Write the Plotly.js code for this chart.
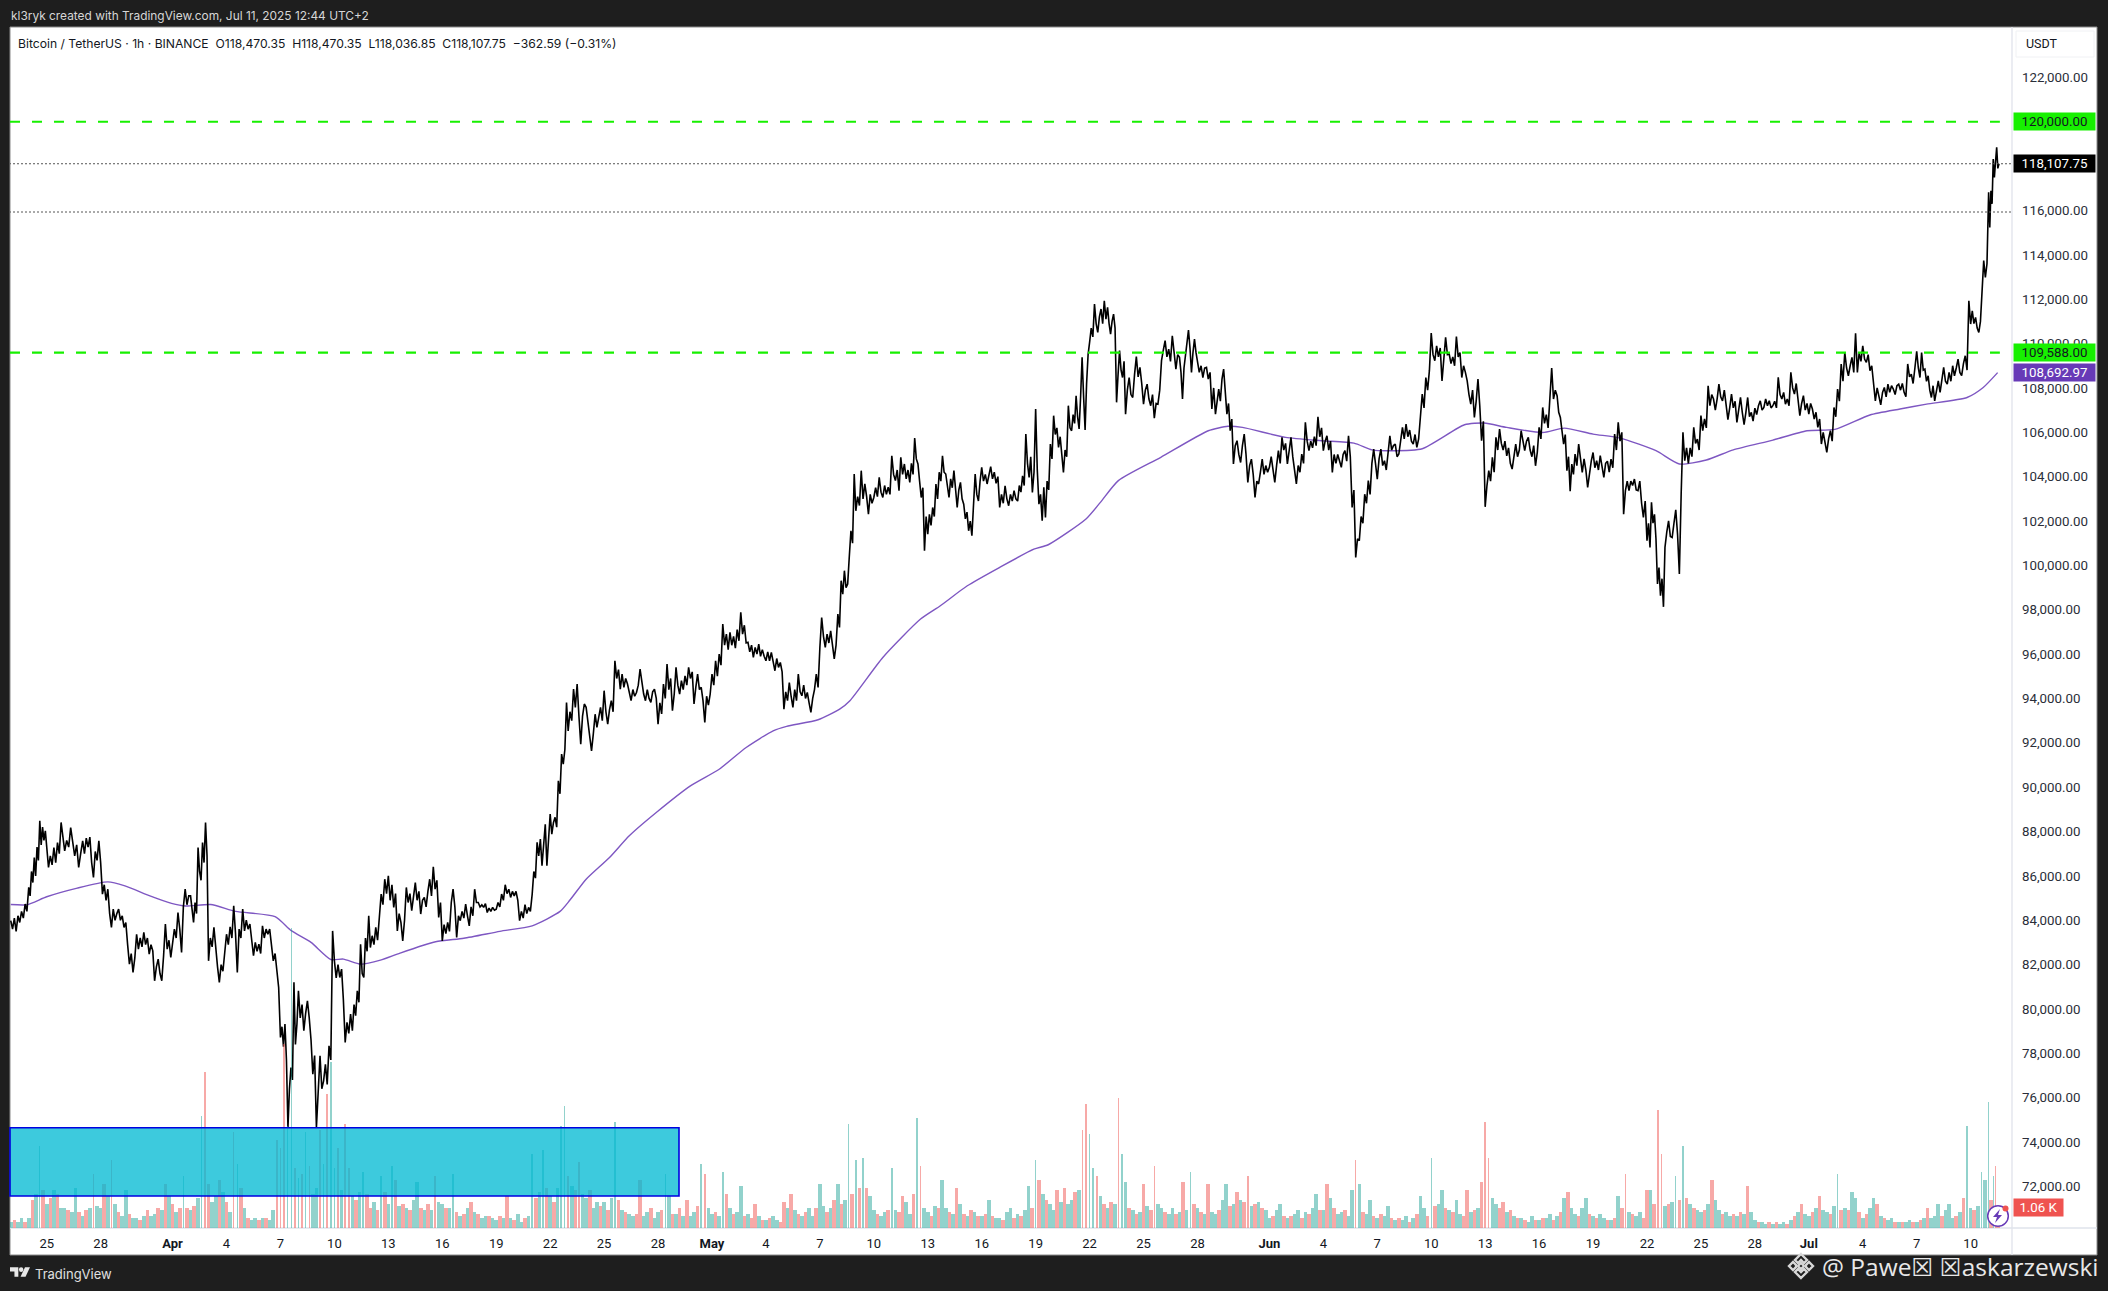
<!DOCTYPE html>
<html><head><meta charset="utf-8">
<script src="https://cdn.plot.ly/plotly-3.0.1.min.js"></script>
<style>html,body{margin:0;padding:0;background:#1e1e1e}</style></head>
<body><div id="chart" style="width:2108px;height:1291px"></div>
<script>
// Price path, USD thousands: one list per calendar day.
const priceMar = [ // 23..31
[83.98,83.6,84.1,83.5,84.2,83.9,84.4,84.1,84.73,84.4],
[85.48,85.1,86.2,85.7,86.83,86.0,87.3,86.7,88.48,87.4,88.2,87.6,88.03],
[87.2,86.38,86.9,86.5,87.28,86.6,87.5,87.0,88.41,87.7],
[87.13,87.6,87.3,88.18,87.5,86.9,87.4,86.38,87.0],
[87.58,87.0,87.7,87.3,87.75,86.6,85.93,87.1,86.7,87.58],
[86.6,85.18,85.6,84.9,85.4,84.3,83.68,84.5,84.0,84.3],
[84.5,84.0,84.2,83.68,83.9,82.9,82.02,82.5,81.65,82.3],
[83.37,82.7,83.2,82.8,83.45,82.9,83.2,82.47,82.9,82.62],
[81.27,81.9,82.25,81.6,81.27,82.4,83.83,82.7,83.1,82.32]];
const priceApr = [
[82.92,83.6,83.2,84.35,83.6,82.55,84.6,85.4,84.7,85.1],
[85.1,84.5,83.9,84.8,84.3,87.28,86.2,85.8,87.5,86.6,88.41,86.9],
[82.17,83.2,82.8,83.68,82.7,81.9,81.2,82.0,81.7,82.47],
[83.37,82.9,83.7,83.2,84.65,83.4,81.65,83.6,83.2,84.5],
[83.52,84.0,83.6,83.83,83.1,82.4,83.0,82.6,82.92,82.5],
[83.75,83.2,83.6,83.37,83.6,82.9,82.17,82.5,81.8,80.97],
[78.72,79.2,78.3,79.32,77.7,74.66,76.4,77.36,76.8,81.2,78.4,79.32],
[80.82,79.6,80.2,79.02,79.8,80.37,79.6,78.6,77.06,77.9],
[74.66,76.1,77.89,76.4,76.76,77.5,76.6,78.34,77.7,83.52],
[82.17,81.4,82.0,81.42,81.8,80.4,78.49,79.4,78.9,79.77],
[79.02,80.2,79.7,80.82,80.3,82.92,81.6,81.42,83.2,82.6,84.2],
[82.77,83.3,82.9,83.68,83.1,84.4,85.18,84.7,85.85,85.2],
[86.0,84.9,85.6,84.58,85.2,83.52,84.3,83.9,83.07,84.0],
[85.48,84.8,85.2,84.43,85.1,85.7,84.9,85.3,84.28,84.9],
[85.03,84.6,85.3,85.85,85.1,86.41,85.4,85.8,84.13,84.8],
[83.07,83.8,83.4,83.9,83.5,84.8,85.4,84.6,83.22,84.2],
[83.98,84.4,84.1,84.73,84.2,83.75,84.6,84.2,85.4,84.8],
[84.8,84.6,84.7,84.58,84.75,84.35,84.55,84.4,84.58,84.45],
[84.5,84.8,84.6,85.18,84.9,85.6,85.2,85.4,85.03,85.3],
[85.1,85.3,84.9,83.98,84.4,84.1,84.7,84.3,84.58,84.4],
[85.18,86.2,85.9,87.51,86.9,87.66,86.46,87.3,88.33,86.46,87.7],
[88.79,87.88,88.4,88.64,88.2,90.29,89.7,91.49,91.04,91.7,93.82],
[92.54,93.4,93.0,94.42,93.6,94.65,93.2,91.94,93.2,93.75],
[93.6,92.9,92.3,91.64,92.4,93.29,92.7,93.1,93.6,93.0],
[94.35,93.4,92.84,93.5,93.9,93.4,95.7,94.9,95.3,94.42],
[95.1,94.5,94.9,94.65,94.3,93.9,94.4,94.1,94.27,94.6],
[95.32,94.7,94.2,93.9,94.4,94.0,93.82,94.3,94.42,94.0],
[92.84,93.8,93.3,94.65,94.0,95.55,94.4,94.9,93.45,94.2],
[95.4,94.6,94.2,94.8,94.4,95.02,94.6,95.4,94.9,95.2],
[93.75,94.5,95.1,94.4,94.5,93.9,92.92,94.1,93.7,94.2]];
const priceMay = [
[95.1,94.6,95.7,95.0,96.0,95.5,97.35,96.4,96.9,96.2],
[96.98,96.4,96.8,96.27,97.1,96.6,97.88,96.9,97.3,96.5],
[96.53,96.1,96.4,95.85,96.3,96.0,96.45,95.9,96.2,95.9],
[95.7,96.1,95.7,96.08,95.6,95.25,95.8,95.4,95.62,95.2],
[93.52,94.3,93.9,94.72,94.1,93.6,94.4,93.9,95.1,94.3],
[94.12,94.6,94.0,94.27,93.8,93.37,94.0,94.4,95.1,94.5],
[96.3,97.65,96.8,96.3,96.9,96.5,97.05,96.4,95.78,96.4],
[97.8,97.2,99.31,98.7,99.76,99.0,99.16,100.4,101.56,101.0,104.12],
[102.46,103.1,102.7,104.27,103.0,103.67,103.1,102.31,103.2,102.8],
[103.06,103.5,103.1,103.97,103.3,103.06,103.6,103.2,103.52,103.2],
[104.94,104.1,103.82,104.3,103.37,104.87,104.1,104.57,103.9,104.3],
[103.74,104.6,104.1,105.74,104.8,104.57,103.8,103.06,103.5,100.66,102.2],
[101.41,102.3,101.8,102.61,102.2,103.67,103.0,104.2,103.8,104.94,104.2],
[104.12,103.5,103.06,103.9,103.5,104.27,103.4,102.61,103.4,103.74,103.0],
[102.76,102.1,102.4,101.56,102.0,101.34,102.6,104.12,103.2,102.9,103.8],
[104.42,103.8,104.1,103.67,104.0,104.45,103.9,104.2,103.7,104.0],
[102.61,103.2,102.8,103.59,103.0,102.69,103.2,102.9,103.37,103.0],
[102.9,103.6,103.3,104.04,103.6,105.92,104.6,103.97,104.9,103.29,104.2],
[107.05,104.3,102.76,103.2,102.01,103.52,102.16,103.8,103.4,105.47,104.8],
[106.75,105.9,106.2,105.32,105.8,104.9,104.19,105.2,104.9,107.2,106.2],
[106.07,106.8,106.4,107.65,106.7,106.15,107.6,109.38,107.6,106.1,108.2,109.5],
[110.05,110.7,110.3,111.78,110.9,110.5,111.2,111.56,110.9,111.93,111.1],
[111.63,110.9,110.43,111.0,111.33,110.7,107.35,108.6,109.68,108.8,108.47,109.2],
[106.82,107.9,108.47,107.7,107.57,108.6,109.41,108.5,108.93,108.2],
[107.27,107.9,108.17,107.5,107.2,107.7,106.64,107.3,107.27,107.9],
[109.23,109.7,110.13,109.4,109.75,109.2,110.35,109.6,108.85,109.5],
[109.38,108.7,107.5,108.9,109.45,110.0,110.61,109.8,108.7,109.6,110.2,109.6],
[109.15,108.7,109.0,108.47,108.9,108.93,108.4,108.7,107.05,108.0],
[106.82,107.5,107.95,107.4,108.4,108.85,107.9,106.82,107.3,106.07,106.6],
[104.57,105.4,105.62,105.0,104.64,105.4,105.92,105.0,103.74,104.5],
[104.79,104.1,103.06,103.8,103.67,104.2,104.79,104.1,104.5,104.2]];
const priceJun = [
[104.42,104.9,104.3,103.74,104.5,105.17,104.6,105.77,105.2,105.5],
[104.57,105.2,105.77,104.9,104.3,103.67,104.5,104.2,105.02,104.6],
[106.45,105.6,105.17,105.6,105.3,105.8,105.4,106.7,105.8,106.2],
[105.17,105.6,105.84,105.2,105.6,104.19,105.0,104.6,105.0,104.7],
[104.42,105.0,105.17,104.7,105.84,104.9,102.61,103.4,100.36,101.2],
[101.11,102.2,101.9,103.21,102.8,103.82,103.2,104.6,105.24,104.6],
[103.89,104.8,105.24,104.5,104.72,104.3,105.2,105.84,105.2,105.4],
[105.47,104.9,105.02,105.6,106.22,105.7,106.37,105.8,106.1,105.6],
[105.47,105.9,105.32,105.7,106.6,107.72,107.1,108.47,107.9,108.8],
[110.47,109.5,109.23,109.9,109.4,109.8,108.32,109.5,110.28,109.5],
[109.53,109.1,109.4,109.0,110.32,109.4,109.6,108.47,109.0,108.7],
[108.32,107.7,107.27,107.9,106.67,107.4,108.4,107.2,105.62,106.5],
[102.64,103.6,104.27,103.8,104.87,104.2,105.77,105.2,106.14,105.5],
[105.2,105.6,104.94,105.3,104.6,104.34,104.9,105.47,104.9,105.2],
[106.07,105.5,105.17,105.6,105.77,105.2,104.9,105.4,104.49,105.1],
[106.22,105.7,107.12,106.4,106.8,106.2,107.6,108.9,107.5,107.9],
[107.65,106.9,106.67,105.9,105.47,105.9,104.27,104.9,103.34,104.57,104.1],
[105.02,104.5,105.47,104.7,104.19,104.8,104.3,103.52,104.2,104.7],
[105.09,104.4,104.72,104.3,104.95,104.5,103.97,104.6,104.7,104.2],
[104.79,104.4,105.92,105.2,106.45,105.6,106.0,102.31,103.37,103.8],
[103.37,103.8,103.6,103.89,103.4,103.37,103.8,102.8,102.16,102.9],
[101.11,101.9,100.81,102.84,101.9,102.3,101.19,99.16,99.9,98.63,99.4,98.13],
[100.81,101.5,102.01,101.3,101.26,101.9,102.5,101.4,99.61,103.21],
[106.0,104.72,105.3,104.6,105.3,104.9,106.22,105.5,105.69,105.2],
[106.75,106.07,106.6,106.2,108.1,107.2,107.7,107.5,107.0,107.5],
[108.17,107.6,107.42,107.9,107.2,106.57,107.1,107.72,107.1,107.4],
[106.45,107.0,107.57,106.9,106.34,106.9,107.57,106.7,106.9,106.5],
[107.09,106.8,107.2,107.42,107.0,107.12,107.5,107.2,107.42,107.1],
[107.2,107.4,107.1,108.48,107.7,107.5,107.8,107.27,107.5,107.2],
[108.7,108.0,107.72,108.2,107.4,106.75,107.3,107.65,107.0,107.3]];
const priceJul = [
[106.82,107.3,107.05,106.6,106.9,106.22,106.6,105.47,106.0,105.6],
[105.09,105.7,106.07,105.6,107.12,106.7,107.95,107.4,109.08,108.3],
[109.6,108.9,108.55,109.0,109.38,108.7,110.46,108.7,109.6,109.2],
[109.9,109.3,109.15,109.5,108.78,109.0,108.2,107.42,108.0,107.6],
[107.24,107.8,108.02,107.6,108.17,107.8,108.1,107.95,107.7,108.1],
[108.17,107.9,108.2,107.8,107.6,109.08,108.5,108.62,108.2,108.9],
[109.65,108.9,108.47,109.6,108.8,108.85,108.3,108.55,107.9,107.57,108.1],
[107.42,107.9,108.32,107.8,108.5,108.93,108.3,108.17,108.7,108.3],
[109.0,108.55,108.9,109.3,108.7,108.55,109.1,109.45,108.8,111.93],
[110.88,111.48,110.9,111.18,110.7,110.5,111.0,112.68,113.74,112.98,113.6],
[116.82,115.24,116.89,116.3,118.32,117.49,118.2,118.85,117.9,118.11]];

// Volume, thousands: one list per day, positive = up bar (teal), negative = down bar (salmon).
const volumeMar = [
[.3,-.4,.3,.5,-.3],[.5,-1.4,1.7,4.1,-1.9],[1.2,-1.5,1.9,-1.7,1.0],[1.0,-.9,.8,2.0,-.8],[.6,-.9,1.0,-2.7,1.1],[1.0,-2.2,1.6,-3.4,1.2],[-.8,.6,1.9,-.7,.5],[.5,-.4,.6,-.9,.6],[.7,-1.0,.9,-2.2,1.6]];
const volumeApr = [
[-1.2,.8,-1.0,2.6,-1.0],[.9,-1.1,1.5,5.6,-7.8],[-2.2,1.3,1.6,-2.4,1.8],[-1.3,.8,-4.8,3.2,-2.0],[1.0,-.5,.4,.5,-.4],[.5,-.5,.4,.9,-4.4],[-4.0,-9.2,5.1,15.0,-3.0],[2.5,-2.7,4.8,-3.1,1.7],[2.0,-4.9,3.2,-6.7,8.3],[3.0,-4.0,1.9,-5.2,-3.0],
[1.6,-1.4,1.8,2.8,-1.7],[-1.0,1.3,-.9,2.6,-1.8],[1.2,3.1,-2.4,1.1,-1.2],[1.0,-.9,1.4,2.3,-1.0],[.9,-1.2,.9,-2.6,1.3],[1.2,-1.0,1.0,2.7,-.8],[.6,-.7,1.0,-1.3,.8],[-.7,.5,.6,-.6,.5],[.4,-.6,.5,-1.6,.5],[-.4,.7,.3,-.5,.6],
[3.7,-1.5,1.8,3.9,-2.0],[1.6,-1.3,2.0,5.1,6.1],[-2.6,2.1,-1.9,-3.3,1.7],[1.5,-1.9,1.0,1.3,-1.1],[1.3,-.9,1.5,5.3,-1.4],[.9,-.8,.7,.6,-.7],[-2.4,.6,.8,-1.0,.5],[.8,-.9,2.7,1.6,-.7],[.7,-1.0,.6,-1.4,.6],[.8,-1.1,3.2,-2.7,1.0]];
const volumeMay = [
[.7,-.8,.6,2.8,-1.7],[1.0,-.7,.8,2.1,-.6],[.7,-.5,-1.2,.6,-.4],[.4,-.5,.6,.4,-.3],[-1.3,1.0,-1.7,.9,-.7],[.6,-.8,1.0,.6,-1.0],[2.2,1.1,-.8,1.0,-1.4],[2.2,-1.2,1.4,5.2,-1.7],[3.4,-2.0,3.5,-2.0,1.6],[.9,-.7,.6,.8,-.9],
[3.0,.9,-.8,-1.6,1.3],[.7,-1.7,5.5,-3.1,1.0],[.8,-.6,1.1,-1.0,2.4],[1.0,-.8,.7,-2.0,1.2],[-.7,.6,-.9,.8,-.6],[.6,-.7,1.4,-.6,.5],[.5,-.4,.8,1.0,-.5],[.7,-.6,.9,2.1,-1.0],[3.4,-2.4,1.7,-1.4,1.2],[.9,-1.9,1.3,-2.0,1.2],
[1.4,-1.8,1.9,-4.9,-6.2],[4.7,3.0,-2.6,1.6,-1.2],[1.0,-1.3,1.2,-6.5,3.7],[2.3,-1.0,.9,-.7,.8],[-2.2,1.1,-.9,-3.1,1.2],[1.0,-.8,.7,1.0,-.7],[.8,-2.3,.9,2.8,-1.2],[1.0,-.8,.7,-2.2,.8],[.7,-.9,1.4,2.2,-1.1],[1.2,-1.8,1.4,-1.3,-2.6],[1.1,-1.2,1.3,-1.0,.9]];
const volumeJun = [
[.5,-.6,.9,1.2,-.6],[.5,-.6,.7,.9,-.5],[.8,-.7,1.0,1.7,-.9],[.9,-2.2,1.5,-1.0,.7],[.8,-.9,.6,1.9,-3.4],[2.2,-.8,.7,1.4,-.6],[.5,-.7,.6,1.1,-.5],[.4,-.5,.4,.6,-.3],[.5,-.7,1.6,1.0,-.6],[3.5,-1.1,1.2,1.9,-1.0],
[.9,-.8,1.4,.7,-.6],[-1.9,.8,-.9,1.0,-2.3],[-5.3,-3.5,1.5,1.2,-1.0],[-1.3,.8,-.9,.6,-.5],[.5,-.4,.3,.6,-.4],[.4,-.5,.5,.7,-.4],[.6,-.8,1.5,-1.8,1.0],[.7,-.6,1.0,1.5,-.7],[.6,-.5,.7,.5,-.4],[.4,-.5,1.6,-1.0,-2.7],
[.8,-.7,.6,.8,-.5],[-1.9,1.9,-1.2,-5.9,-3.7],[1.1,-1.2,1.3,2.6,-1.4],[4.1,-1.5,1.2,-1.0,.9],[.8,-.9,1.2,-2.4,1.4],[.9,-.7,.8,.6,-.7],[.6,-.8,.7,-2.1,.8],[.4,-.3,.3,.2,-.3],[.2,-.3,.2,.3,-.2],[.4,-.6,.8,-1.2,.7]];
const volumeJul = [
[.6,-.8,1.0,-1.6,.9],[.8,-.7,1.1,2.7,-.9],[1.0,-.9,1.8,1.5,-.8],[.5,-.7,1.0,1.5,-1.2],[.6,-.5,.4,.5,-.3],[.3,-.3,.3,.4,-.3],[.3,-.4,.5,-1.0,.5],[.6,1.2,-.6,.9,1.2],[.5,-.6,.8,-1.5,5.1],[1.0,-.9,1.1,2.8,2.4],[6.3,-1.4,2.6,-3.1,-1.06]];

const maDays = [-9,-8.1,-7,-5.3,-3.6,-2.65,-1.26,-.06,.73,2.12,3.51,5.7,6.6,7.7,8.8,9.5,10.46,11.56,12.65,14.63,16.2,18.2,20,21.55,22.1,23,24.3,25.4,26.9,28.8,30.4,31.9,33.4,34.15,35.9,37.1,37.67,39.5,41.6,42.7,44.2,46,47.9,48.7,50.8,51.6,52.6,54.96,57.6,58.7,59.5,61.9,63.9,65.7,66.7,67.7,69.5,71.85,72.94,74.2,76.2,77.4,79,80.5,82.5,83.8,85.3,86.8,89,90.9,92.45,94.4,96.07,97.55,99.8,100.7,101.5];
const maValues = [84.71,84.7,85.06,85.45,85.73,85.55,85.1,84.76,84.64,84.71,84.4,84.16,83.53,83.0,82.23,82.25,82.02,82.2,82.52,83.03,83.19,83.5,83.75,84.4,84.91,85.85,86.83,87.81,88.86,90.06,90.81,91.79,92.54,92.74,93.04,93.52,93.9,95.85,97.58,98.18,99.08,99.91,100.73,100.93,102.09,102.84,103.82,104.87,106.07,106.27,106.22,105.77,105.62,105.51,105.21,105.17,105.26,106.34,106.42,106.22,105.99,106.19,105.92,105.74,105.17,104.57,104.75,105.21,105.65,106.07,106.13,106.78,107.05,107.27,107.57,108.02,108.69];

const tickDates = ["2025-03-25","2025-03-28","2025-04-01","2025-04-04","2025-04-07","2025-04-10","2025-04-13","2025-04-16","2025-04-19","2025-04-22","2025-04-25","2025-04-28","2025-05-01","2025-05-04","2025-05-07","2025-05-10","2025-05-13","2025-05-16","2025-05-19","2025-05-22","2025-05-25","2025-05-28","2025-06-01","2025-06-04","2025-06-07","2025-06-10","2025-06-13","2025-06-16","2025-06-19","2025-06-22","2025-06-25","2025-06-28","2025-07-01","2025-07-04","2025-07-07","2025-07-10"];
const tickTexts = ["25","28","<b>Apr</b>","4","7","10","13","16","19","22","25","28","<b>May</b>","4","7","10","13","16","19","22","25","28","<b>Jun</b>","4","7","10","13","16","19","22","25","28","<b>Jul</b>","4","7","10"];
const priceTicks = [72,74,76,78,80,82,84,86,88,90,92,94,96,98,100,102,104,106,108,110,112,114,116,122];

const lastClose = 118107.75, resistance = 120000, support = 109588, maLast = 108692.97, lowerDotted = 115932;
const zoneTop = 74647, zoneBottom = 71567;
const rangeStart = '2025-03-22 23:00', rangeEnd = '2025-07-12 07:12', levelEnd = '2025-07-11 15:00';

// ---- build
const DAY = 86400000, T0 = Date.UTC(2025,2,23), APR1 = Date.UTC(2025,3,1);
const iso = ms => new Date(ms).toISOString().slice(0,19).replace('T',' ');
function spread(list){
  const xs=[],ys=[];
  list.forEach((vals,i)=>{const span=i===list.length-1?0.64:1;
    vals.forEach((v,j)=>{xs.push(iso(T0+(i+span*j/vals.length)*DAY));ys.push(v);});});
  return {xs,ys};
}
const p = spread([].concat(priceMar,priceApr,priceMay,priceJun,priceJul));
const v = spread([].concat(volumeMar,volumeApr,volumeMay,volumeJun,volumeJul));
const W=2002,H=1201,L=10,T=27;
const px = x => (x-L)/W, py = y => (T+H-y)/H;
const FONT='Inter, "Liberation Sans", sans-serif', NUM='Roboto, "Liberation Sans", sans-serif';

const level = (y) => ({type:'scatter',mode:'lines',x:[rangeStart,levelEnd],y:[y,y],line:{color:'#17f000',width:2.2,dash:'10px,12px'},hoverinfo:'skip',showlegend:false});
const traces = [
 {type:'bar',x:v.xs,y:v.ys.map(Math.abs),yaxis:'y2',width:v.ys.map(q=>DAY*(Math.abs(q)>2.4?0.08:0.2)),
  marker:{color:v.ys.map(q=>q>=0?'rgba(38,166,154,0.5)':'rgba(239,83,80,0.5)'),line:{width:0}},hoverinfo:'skip',showlegend:false},
 {type:'scatter',mode:'lines',x:maDays.map(d=>iso(APR1+d*DAY)),y:maValues.map(q=>q*1000),line:{color:'#7E57C2',width:1.4,shape:'spline',smoothing:.6},hoverinfo:'skip',showlegend:false},
 {type:'scatter',mode:'lines',x:p.xs,y:p.ys.map(q=>q*1000),line:{color:'#000',width:1.6},hoverinfo:'skip',showlegend:false},
 level(resistance),level(support)
];

function tag(y,text,bg,fg){
  return {xref:'paper',yref:'y',x:px(2012.5),y:y,xanchor:'left',yanchor:'middle',text:text,showarrow:false,
    width:79,height:15,bgcolor:bg,borderpad:1,align:'center',font:{family:NUM,size:13.3,color:fg}};
}
function label(xp,yp,text,size,color,family,anchor){
  return {xref:'paper',yref:'paper',x:px(xp),y:py(yp),xanchor:anchor||'left',yanchor:'middle',text:text,showarrow:false,
    font:{family:family||FONT,size:size,color:color}};
}
const svg = s => 'data:image/svg+xml;utf8,'+encodeURIComponent(s);
const logoTV = svg('<svg xmlns="http://www.w3.org/2000/svg" viewBox="0 0 36 20"><g fill="#e8e8e8"><path d="M0 2H15V18H8V9H0z"/><circle cx="20" cy="6" r="4"/><path d="M27 2H36L28 18H19z"/></g></svg>');
const logoBolt = svg('<svg xmlns="http://www.w3.org/2000/svg" viewBox="0 0 24 24"><circle cx="12" cy="12" r="10.3" fill="#fff" stroke="#673AB7" stroke-width="1.5"/><path d="M14 5L7 13h4l-2 6 7-8h-4z" fill="#673AB7"/><circle cx="19.5" cy="4.5" r="3" fill="#EF5350"/></svg>');
const logoDiamond = svg('<svg xmlns="http://www.w3.org/2000/svg" viewBox="0 0 28 28"><g fill="none" stroke="#d8d8d8" stroke-width="2.4"><path d="M14 2l6 6-3 3-3-3-3 3-3-3z"/><path d="M14 26l6-6-3-3-3 3-3-3-3 3z"/><path d="M2 14l4-4 3 3v2l-3 3z"/><path d="M26 14l-4-4-3 3v2l3 3z"/><path d="M14 11l3 3-3 3-3-3z"/></g></svg>');
const image=(src,x,y,w,h)=>({source:src,xref:'paper',yref:'paper',x:px(x),y:py(y),sizex:w/W,sizey:h/H,xanchor:'left',yanchor:'top',sizing:'stretch',layer:'above'});

const layout = {
 width:2108,height:1291,margin:{l:L,r:96,t:T,b:63,pad:0},
 paper_bgcolor:'#1e1e1e',plot_bgcolor:'rgba(0,0,0,0)',showlegend:false,hovermode:false,
 font:{family:FONT,color:'#131722'},bargap:0,
 xaxis:{type:'date',range:[rangeStart,rangeEnd],tickmode:'array',tickvals:tickDates,ticktext:tickTexts,
   showgrid:false,zeroline:false,showline:false,ticks:'',ticklabelstandoff:6,tickangle:0,tickfont:{family:NUM,size:13,color:'#131722'}},
 yaxis:{range:[70125,124273],side:'right',tickmode:'array',tickvals:priceTicks.map(q=>q*1000),tickformat:',.2f',showgrid:false,zeroline:false,showline:false,
   ticks:'',ticklabelstandoff:9,tickfont:{family:NUM,size:13.3,color:'#2a2e39'}},
 yaxis2:{overlaying:'y',range:[0,60.05],visible:false,fixedrange:true},
 shapes:[
  {xref:'paper',yref:'paper',x0:px(10),x1:px(2097),y0:py(27),y1:py(1255),fillcolor:'#fff',line:{color:'#8a8a8a',width:1},layer:'below'},
  {xref:'paper',yref:'paper',x0:px(2012),x1:px(2012),y0:py(27),y1:py(1255),line:{color:'#e0e3eb',width:1.3},layer:'below'},
  {xref:'paper',yref:'paper',x0:px(10),x1:px(2097),y0:py(1228),y1:py(1228),line:{color:'#e0e3eb',width:1.3},layer:'below'},
  {xref:'paper',yref:'paper',x0:px(2016),x1:px(2094),y0:py(31),y1:py(57),fillcolor:'#fff',line:{color:'#f0f1f4',width:1},layer:'below'},
  {xref:'paper',yref:'y',x0:px(10),x1:px(679),y0:zoneBottom,y1:zoneTop,fillcolor:'rgba(0,185,210,0.76)',line:{color:'#0000e0',width:1.6},layer:'above'},
  {xref:'paper',yref:'y',x0:px(10),x1:px(2012),y0:lastClose,y1:lastClose,line:{color:'#555',width:1,dash:'1px,3px'},layer:'above'},
  {xref:'paper',yref:'y',x0:px(10),x1:px(2012),y0:lowerDotted,y1:lowerDotted,line:{color:'#555',width:1,dash:'1px,3px'},layer:'above'}
 ],
 annotations:[
  label(8.5,16,'kl3ryk created with TradingView.com, Jul 11, 2025 12:44 UTC+2',11.9,'#d6d6d6'),
  label(15.5,43,'Bitcoin / TetherUS · 1h · BINANCE\u00A0\u00A0O118,470.35\u00A0\u00A0H118,470.35\u00A0\u00A0L118,036.85\u00A0\u00A0C118,107.75\u00A0\u00A0−362.59 (−0.31%)',12.15,'#131722'),
  label(2024,43,'USDT',12.5,'#131722',NUM),
  tag(resistance,'120,000.00','#17f000','#131722'),
  tag(lastClose,'118,107.75','#000','#fff'),
  tag(support,'109,588.00','#17f000','#131722'),
  tag(maLast,'108,692.97','#673AB7','#fff'),
  {xref:'paper',yref:'paper',x:px(2012.5),y:py(1207),xanchor:'left',yanchor:'middle',text:'1.06 K',showarrow:false,width:47,height:15,bgcolor:'#EF5350',borderpad:1,align:'center',font:{family:NUM,size:13.3,color:'#fff'}},
  label(33,1274,'TradingView',13,'#e0e0e0'),
  label(1820,1266,'@ Pawe☒ ☒askarzewski',24.5,'#e8e8e8','"Open Sans", "DejaVu Sans", sans-serif')
 ],
 images:[image(logoTV,10,1266,20,12),image(logoBolt,1986,1204,24,24),image(logoDiamond,1787,1252,28,28)]
};
Plotly.newPlot('chart',traces,layout,{displayModeBar:false,staticPlot:true});
</script></body></html>
